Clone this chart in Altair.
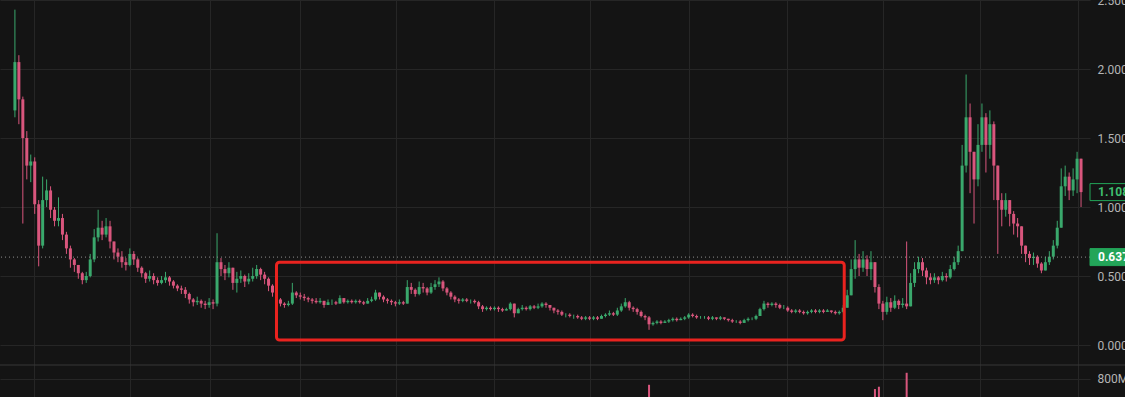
import altair as alt
import numpy as np
import pandas as pd

# ---- price series (one candle per bar index) ----
first_open = 1.70

close = [
    2.05, 1.78, 1.50, 1.30, 1.33, 1.02, 0.72, 1.05, 1.12, 0.98,
    0.90, 0.92, 0.80, 0.70, 0.62, 0.58, 0.52, 0.47, 0.50, 0.62,
    0.78, 0.85, 0.80, 0.86, 0.75, 0.67, 0.64, 0.60, 0.58, 0.66,
    0.62, 0.56, 0.52, 0.48, 0.50, 0.47, 0.45, 0.47, 0.49, 0.46,
    0.43, 0.41, 0.40, 0.37, 0.33, 0.31, 0.32, 0.30, 0.29, 0.31,
    0.30, 0.60, 0.55, 0.52, 0.56, 0.45, 0.48, 0.50, 0.46, 0.48,
    0.50, 0.55, 0.51, 0.48, 0.43, 0.38, 0.33, 0.30, 0.29, 0.30,
    0.38, 0.36, 0.35, 0.34, 0.33, 0.32, 0.31, 0.32, 0.29, 0.31,
    0.31, 0.30, 0.34, 0.31, 0.32, 0.31, 0.32, 0.31, 0.30, 0.32,
    0.33, 0.38, 0.35, 0.33, 0.32, 0.31, 0.30, 0.31, 0.30, 0.42,
    0.40, 0.37, 0.42, 0.41, 0.38, 0.42, 0.44, 0.46, 0.41, 0.38,
    0.35, 0.33, 0.32, 0.33, 0.32, 0.32, 0.31, 0.28, 0.26, 0.27,
    0.26, 0.27, 0.26, 0.25, 0.26, 0.30, 0.23, 0.26, 0.27, 0.26,
    0.28, 0.27, 0.28, 0.30, 0.29, 0.27, 0.25, 0.24, 0.22, 0.22,
    0.21, 0.21, 0.20, 0.19, 0.20, 0.19, 0.20, 0.19, 0.21, 0.22,
    0.23, 0.22, 0.25, 0.28, 0.31, 0.27, 0.26, 0.24, 0.21, 0.20,
    0.15, 0.16, 0.17, 0.16, 0.17, 0.18, 0.19, 0.18, 0.19, 0.20,
    0.22, 0.21, 0.20, 0.20, 0.20, 0.19, 0.20, 0.19, 0.20, 0.19,
    0.18, 0.17, 0.17, 0.16, 0.18, 0.19, 0.19, 0.21, 0.26, 0.30,
    0.29, 0.30, 0.29, 0.27, 0.27, 0.25, 0.24, 0.25, 0.24, 0.23,
    0.24, 0.25, 0.24, 0.25, 0.24, 0.25, 0.24, 0.23, 0.24, 0.27,
    0.36, 0.55, 0.62, 0.56, 0.62, 0.55, 0.60, 0.42, 0.30, 0.24,
    0.31, 0.27, 0.32, 0.29, 0.30, 0.28, 0.45, 0.55, 0.60, 0.54,
    0.49, 0.47, 0.49, 0.47, 0.50, 0.49, 0.55, 0.60, 0.68, 1.30,
    1.65, 1.40, 1.20, 1.45, 1.65, 1.45, 1.60, 1.30, 1.05, 0.98,
    1.05, 0.95, 0.88, 0.86, 0.72, 0.66, 0.63, 0.64, 0.59, 0.54,
    0.60, 0.64, 0.72, 0.85, 1.15, 1.22, 1.12, 1.20, 1.35, 1.108,
]

high = [
    2.43, 2.10, 1.80, 1.55, 1.38, 1.36, 1.05, 1.22, 1.20, 1.15,
    1.00, 1.07, 0.95, 0.82, 0.72, 0.63, 0.58, 0.53, 0.53, 0.66,
    0.84, 0.98, 0.90, 0.92, 0.90, 0.75, 0.70, 0.68, 0.63, 0.70,
    0.68, 0.63, 0.57, 0.53, 0.54, 0.52, 0.49, 0.50, 0.53, 0.50,
    0.47, 0.44, 0.43, 0.42, 0.38, 0.34, 0.35, 0.33, 0.32, 0.34,
    0.33, 0.81, 0.63, 0.58, 0.60, 0.56, 0.53, 0.54, 0.51, 0.52,
    0.56, 0.58, 0.56, 0.53, 0.49, 0.44, 0.38, 0.34, 0.31, 0.32,
    0.45, 0.39, 0.38, 0.37, 0.35, 0.34, 0.34, 0.34, 0.32, 0.33,
    0.33, 0.32, 0.36, 0.34, 0.33, 0.33, 0.33, 0.33, 0.32, 0.34,
    0.35, 0.40, 0.38, 0.36, 0.34, 0.33, 0.32, 0.33, 0.32, 0.47,
    0.45, 0.41, 0.46, 0.45, 0.42, 0.45, 0.47, 0.49, 0.47, 0.42,
    0.39, 0.36, 0.34, 0.34, 0.34, 0.33, 0.33, 0.32, 0.29, 0.28,
    0.28, 0.28, 0.28, 0.27, 0.27, 0.31, 0.29, 0.27, 0.29, 0.28,
    0.29, 0.29, 0.30, 0.31, 0.31, 0.29, 0.27, 0.26, 0.25, 0.23,
    0.23, 0.22, 0.22, 0.21, 0.21, 0.21, 0.21, 0.21, 0.22, 0.23,
    0.25, 0.24, 0.27, 0.30, 0.34, 0.32, 0.28, 0.27, 0.25, 0.22,
    0.21, 0.17, 0.18, 0.18, 0.18, 0.19, 0.20, 0.20, 0.20, 0.21,
    0.23, 0.23, 0.22, 0.21, 0.21, 0.21, 0.21, 0.20, 0.21, 0.20,
    0.19, 0.19, 0.18, 0.18, 0.19, 0.20, 0.20, 0.22, 0.27, 0.32,
    0.31, 0.31, 0.31, 0.30, 0.29, 0.28, 0.26, 0.26, 0.26, 0.25,
    0.25, 0.26, 0.26, 0.26, 0.26, 0.26, 0.25, 0.25, 0.25, 0.29,
    0.40, 0.62, 0.76, 0.66, 0.68, 0.65, 0.68, 0.58, 0.44, 0.32,
    0.35, 0.34, 0.36, 0.33, 0.34, 0.75, 0.52, 0.60, 0.64, 0.63,
    0.56, 0.52, 0.52, 0.50, 0.53, 0.52, 0.58, 0.64, 0.72, 1.45,
    1.96, 1.75, 1.40, 1.60, 1.75, 1.68, 1.70, 1.62, 1.30, 1.10,
    1.10, 1.05, 0.97, 0.92, 0.86, 0.72, 0.68, 0.67, 0.65, 0.60,
    0.64, 0.68, 0.76, 0.90, 1.28, 1.30, 1.25, 1.28, 1.40, 1.25,
]

low = [
    1.65, 1.60, 0.88, 1.20, 1.18, 0.95, 0.57, 0.70, 1.00, 0.92,
    0.86, 0.86, 0.76, 0.66, 0.56, 0.53, 0.48, 0.44, 0.45, 0.49,
    0.60, 0.75, 0.76, 0.78, 0.70, 0.62, 0.60, 0.56, 0.54, 0.57,
    0.58, 0.53, 0.49, 0.45, 0.46, 0.44, 0.43, 0.44, 0.45, 0.43,
    0.41, 0.39, 0.37, 0.34, 0.30, 0.28, 0.29, 0.27, 0.26, 0.27,
    0.26, 0.28, 0.50, 0.47, 0.49, 0.40, 0.38, 0.45, 0.42, 0.44,
    0.46, 0.48, 0.47, 0.44, 0.39, 0.35, 0.31, 0.28, 0.27, 0.28,
    0.29, 0.34, 0.33, 0.32, 0.31, 0.30, 0.30, 0.30, 0.27, 0.29,
    0.29, 0.29, 0.30, 0.30, 0.30, 0.30, 0.30, 0.30, 0.29, 0.30,
    0.31, 0.32, 0.33, 0.31, 0.30, 0.29, 0.28, 0.29, 0.29, 0.30,
    0.37, 0.35, 0.36, 0.38, 0.36, 0.37, 0.40, 0.42, 0.39, 0.36,
    0.33, 0.31, 0.30, 0.31, 0.31, 0.30, 0.30, 0.26, 0.24, 0.25,
    0.25, 0.25, 0.24, 0.24, 0.25, 0.25, 0.20, 0.23, 0.25, 0.25,
    0.25, 0.26, 0.26, 0.27, 0.27, 0.25, 0.23, 0.22, 0.21, 0.20,
    0.20, 0.19, 0.19, 0.18, 0.18, 0.18, 0.18, 0.18, 0.19, 0.20,
    0.21, 0.21, 0.21, 0.24, 0.27, 0.25, 0.24, 0.22, 0.20, 0.18,
    0.11, 0.14, 0.15, 0.15, 0.16, 0.16, 0.17, 0.17, 0.18, 0.18,
    0.19, 0.20, 0.19, 0.19, 0.19, 0.18, 0.18, 0.18, 0.18, 0.18,
    0.17, 0.16, 0.16, 0.15, 0.16, 0.17, 0.18, 0.18, 0.21, 0.25,
    0.27, 0.28, 0.27, 0.26, 0.26, 0.24, 0.23, 0.23, 0.23, 0.22,
    0.22, 0.23, 0.23, 0.23, 0.23, 0.24, 0.23, 0.22, 0.22, 0.23,
    0.27, 0.36, 0.48, 0.50, 0.53, 0.50, 0.47, 0.38, 0.26, 0.18,
    0.22, 0.24, 0.26, 0.26, 0.27, 0.26, 0.28, 0.42, 0.52, 0.50,
    0.44, 0.44, 0.45, 0.44, 0.46, 0.46, 0.48, 0.54, 0.58, 0.68,
    1.25, 1.10, 0.88, 1.15, 1.40, 1.25, 1.35, 1.05, 0.66, 0.86,
    0.93, 0.86, 0.80, 0.78, 0.66, 0.60, 0.58, 0.58, 0.56, 0.52,
    0.54, 0.58, 0.62, 0.70, 0.85, 1.08, 1.05, 1.08, 1.10, 1.00,
]

# ---- volume spikes tall enough to reach the visible part of the volume pane ----
vol_bar = [160, 217, 218, 225]
vol_value = [650e6, 540e6, 600e6, 960e6]

# ---- axes, guides and annotations ----
price_ticks = [0.0, 0.5, 1.0, 1.5, 2.0, 2.5]
volume_ticks = [800e6]
month_marks = [4.75, 29, 49.25, 72, 96.25, 121, 145, 170, 194.75, 219, 243.5, 268.25]
ref_price = 0.637
last_price = 1.108
pane_split = -0.145
highlight = {"start": 66, "end": 209.25, "top": 0.60, "bottom": 0.036}

BG = "#141414"
GRID = "#262626"
UP = "#3aa86c"
DOWN = "#d9567d"
LABEL = "#b4b4b4"
FONT = "Roboto"

W, H = 1090, 397
PX_PER_UNIT = 138.0
label_half = 8.5 / PX_PER_UNIT

opens = [first_open] + close[:-1]
candles = pd.DataFrame({
    "bar": np.arange(len(close)),
    "open": opens,
    "close": close,
    "high": high,
    "low": low,
})
candles["wick_hi"] = candles[["high", "open", "close"]].max(axis=1)
candles["wick_lo"] = candles[["low", "open", "close"]].min(axis=1)
candles["dir"] = np.where(candles["close"] >= candles["open"], "up", "down")

vol = pd.DataFrame({"bar": vol_bar, "vol": vol_value})
vol["dir"] = [candles.loc[b, "dir"] for b in vol_bar]

x_scale = alt.Scale(domain=[-2.5, 270], nice=False, zero=False)
y_scale = alt.Scale(domain=[2.5 - H / PX_PER_UNIT, 2.5], nice=False, zero=False)
v_scale = alt.Scale(domain=[335e6, 10.58e9], nice=False, zero=False)
color_scale = alt.Scale(domain=["up", "down"], range=[UP, DOWN])

x_axis = alt.Axis(values=month_marks, grid=True, gridColor=GRID, gridWidth=1,
                  labels=False, ticks=False, domain=False, title=None)
y_axis = alt.Axis(orient="right", values=price_ticks, format=".3f", grid=True,
                  gridColor=GRID, domain=False, ticks=False, labelPadding=7,
                  labelColor=LABEL, labelFontSize=12, labelFont=FONT, title=None)
v_axis = alt.Axis(orient="right", values=volume_ticks, grid=True,
                  labelExpr="format(datum.value / 1e6, 'd') + 'M'",
                  gridColor=GRID, domain=False, ticks=False, labelPadding=7,
                  labelColor=LABEL, labelFontSize=12, labelFont=FONT, title=None)

X = alt.X("bar:Q", scale=x_scale, axis=x_axis)

wicks = alt.Chart(candles).mark_rule(strokeWidth=1).encode(
    x=X,
    y=alt.Y("wick_lo:Q", scale=y_scale, axis=y_axis),
    y2="wick_hi:Q",
    color=alt.Color("dir:N", scale=color_scale, legend=None),
)

bodies = alt.Chart(candles).mark_bar(size=3).encode(
    x=X,
    y=alt.Y("open:Q", scale=y_scale, axis=y_axis),
    y2="close:Q",
    color=alt.Color("dir:N", scale=color_scale, legend=None),
)

ref_line = alt.Chart(pd.DataFrame({"p": [ref_price]})).mark_rule(
    color="#8e8e8e", strokeDash=[1, 3], strokeWidth=1
).encode(y=alt.Y("p:Q", scale=y_scale, axis=y_axis))

separator = alt.Chart(pd.DataFrame({"p": [pane_split]})).mark_rule(
    color="#363636", strokeWidth=1, clip=False
).encode(
    y=alt.Y("p:Q", scale=y_scale, axis=y_axis),
    x=alt.value(0),
    x2=alt.value(1125),
)

box = alt.Chart(pd.DataFrame([highlight])).mark_rect(
    fillOpacity=0, stroke="#ea231f", strokeWidth=3, cornerRadius=3
).encode(
    x=alt.X("start:Q", scale=x_scale, axis=x_axis),
    x2="end:Q",
    y=alt.Y("top:Q", scale=y_scale, axis=y_axis),
    y2="bottom:Q",
)

tags = pd.DataFrame({
    "p": [ref_price, last_price],
    "top": [ref_price + label_half, last_price + label_half],
    "bottom": [ref_price - label_half, last_price - label_half],
    "txt": [f"{ref_price:.3f}", f"{last_price:.3f}"],
    "kind": ["ref", "last"],
})

tag_boxes = alt.Chart(tags).mark_rect(clip=False, strokeWidth=1).encode(
    x=alt.value(1090),
    x2=alt.value(1130),
    y=alt.Y("top:Q", scale=y_scale, axis=y_axis),
    y2="bottom:Q",
    fill=alt.Fill("kind:N", scale=alt.Scale(domain=["ref", "last"], range=["#23a559", BG]), legend=None),
    stroke=alt.Stroke("kind:N", scale=alt.Scale(domain=["ref", "last"], range=["#23a559", "#23a559"]), legend=None),
)

tag_text = alt.Chart(tags).mark_text(
    clip=False, align="left", baseline="middle", font=FONT, fontSize=12, fontWeight="bold"
).encode(
    x=alt.value(1098),
    y=alt.Y("p:Q", scale=y_scale, axis=y_axis),
    text="txt:N",
    color=alt.Color("kind:N", scale=alt.Scale(domain=["ref", "last"], range=["#ffffff", "#3fbf6f"]), legend=None),
)

price = alt.layer(wicks, bodies, ref_line, separator, box, tag_boxes, tag_text).resolve_scale(color="independent")

volume = alt.Chart(vol).mark_bar(size=2, clip=True).encode(
    x=X,
    y=alt.Y("vol:Q", scale=v_scale, axis=v_axis),
    y2=alt.Y2(datum=0),
    color=alt.Color("dir:N", scale=color_scale, legend=None),
)

chart = alt.layer(price, volume).resolve_scale(
    y="independent", color="independent"
).properties(
    width=W,
    height=H,
    background=BG,
    padding={"left": 0, "right": 35, "top": 0, "bottom": 0},
    autosize=alt.AutoSizeParams(type="none"),
).configure_view(stroke=None, fill=BG)

chart.save("out.html", embed_options={"renderer": "svg", "actions": False})
